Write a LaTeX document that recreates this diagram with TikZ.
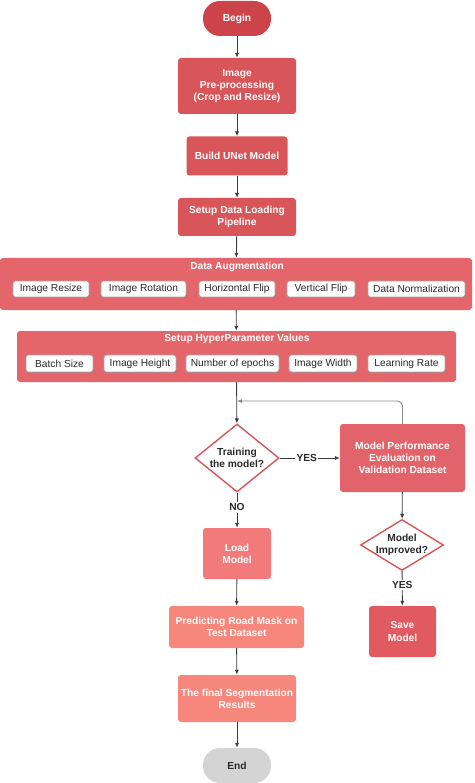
\documentclass[tikz,border=0pt]{standalone}
\usepackage{fontspec}
\setmainfont{Liberation Sans}
\usetikzlibrary{shapes.geometric,arrows.meta,shadows}
\definecolor{cbegin}{HTML}{CC444A}
\definecolor{cmain}{HTML}{D8555A}
\definecolor{cgroup}{HTML}{E5666A}
\definecolor{cperf}{HTML}{E3636A}
\definecolor{cload}{HTML}{F27A7A}
\definecolor{cpred}{HTML}{F7877C}
\definecolor{csave}{HTML}{E05A60}
\definecolor{cend}{HTML}{D4D4D4}
\definecolor{cline}{HTML}{3C3C3C}
\definecolor{cloop}{HTML}{8A8A8A}
\definecolor{ctext}{HTML}{2A2A2A}
\tikzset{
  base/.style={inner sep=0pt, align=center, font=\fontsize{10.2}{12.3}\selectfont\bfseries},
  redbox/.style={base, rectangle, rounded corners=3pt, fill=#1, text=white},
  term/.style={base, rectangle, rounded corners=17pt, fill=#1},
  chip/.style={inner sep=0pt, rectangle, rounded corners=2.5pt, fill=white, draw=gray!70, line width=0.6pt, text=ctext, font=\fontsize{10.2}{12}\selectfont, minimum height=16pt, drop shadow={shadow xshift=0.6pt, shadow yshift=-0.8pt, opacity=0.35, fill=black!60}},
  decision/.style={base, diamond, draw=cmain, line width=1.4pt, fill=white, text=ctext, inner sep=-1pt},
  arr/.style={draw=cline, line width=0.9pt, -{Latex[length=5pt,width=4.2pt]}},
  lbl/.style={font=\fontsize{10.2}{12}\selectfont\bfseries, text=ctext, fill=white, inner sep=1.5pt},
}
\begin{document}
\begin{tikzpicture}[x=1pt,y=-1pt]
\useasboundingbox (0,0) rectangle (474,783);
% main column
\node[term=cbegin, text=white, minimum width=68pt, minimum height=35pt] (begin) at (237,18.5) {Begin};
\node[redbox=cmain, minimum width=118pt, minimum height=56pt] (pre) at (237,86) {Image\\Pre-processing\\(Crop and Resize)};
\node[redbox=cmain, minimum width=101pt, minimum height=39pt] (build) at (237,156) {Build UNet Model};
\node[redbox=cmain, minimum width=118pt, minimum height=38pt] (loading) at (237,217) {Setup Data Loading\\Pipeline};
% data augmentation group
\node[redbox=cgroup, minimum width=472pt, minimum height=52pt] (aug) at (236,284) {};
\node[base, text=white] (augtitle) at (237,267) {Data Augmentation};
\node[chip, minimum width=76pt] (resize) at (51,289) {Image Resize};
\node[chip, minimum width=85pt] (rotation) at (143.5,289) {Image Rotation};
\node[chip, minimum width=76pt] (hflip) at (237,289) {Horizontal Flip};
\node[chip, minimum width=68pt] (vflip) at (321,289) {Vertical Flip};
\node[chip, minimum width=97pt] (norm) at (416.5,289) {Data Normalization};
% hyperparameters group
\node[redbox=cgroup, minimum width=439pt, minimum height=51pt] (hyper) at (236.5,356.5) {};
\node[base, text=white] (hypertitle) at (237,339) {Setup HyperParameter Values};
\node[chip, minimum width=67pt, minimum height=17pt] (batch) at (59.5,363.5) {Batch Size};
\node[chip, minimum width=72pt, minimum height=17pt] (height) at (140,363.5) {Image Height};
\node[chip, minimum width=93pt, minimum height=17pt] (epochs) at (232.5,363.5) {Number of epochs};
\node[chip, minimum width=68pt, minimum height=17pt] (width) at (323,363.5) {Image Width};
\node[chip, minimum width=77pt, minimum height=17pt] (lr) at (406.5,363.5) {Learning Rate};
% training loop
\node[decision, minimum width=84pt, minimum height=68pt, aspect=1.235] (train) at (237,458) {Training\\the model?};
\node[redbox=cperf, minimum width=125pt, minimum height=68pt] (perf) at (402.5,458) {Model Performance\\Evaluation on\\Validation Dataset};
\node[decision, minimum width=83pt, minimum height=51pt, aspect=1.63] (improved) at (402,545) {Model\\Improved?};
\node[redbox=csave, minimum width=67pt, minimum height=51pt] (save) at (402.5,631.5) {Save\\Model};
\node[redbox=cload, minimum width=68pt, minimum height=51pt] (loadm) at (237,553.5) {Load\\Model};
\node[redbox=cpred, minimum width=135pt, minimum height=42pt] (pred) at (236.5,627) {Predicting Road Mask on\\Test Dataset};
\node[redbox=cpred, minimum width=118pt, minimum height=47pt] (final) at (237,698.5) {The final Segmentation\\Results};
\node[term=cend, text=ctext, minimum width=68pt, minimum height=35pt] (end) at (237,765.5) {End};
\coordinate (loopend) at (237,401);
% connectors
\draw[arr] (begin) -- (pre);
\draw[arr] (pre) -- (build);
\draw[arr] (build) -- (loading);
\draw[arr] (loading) -- (aug);
\draw[arr] (aug) -- (hyper);
\draw[arr] (hyper) -- (train);
\draw[arr, draw=cloop, rounded corners=5pt] (perf.north) |- (loopend);
\draw[arr] (train) -- node[lbl, pos=0.45] (yes1) {YES} (perf);
\draw[arr] (train) -- node[lbl, pos=0.42] (no1) {NO} (loadm);
\draw[arr] (perf) -- (improved);
\draw[arr] (improved) -- node[lbl, pos=0.4] (yes2) {YES} (save);
\draw[arr] (loadm) -- (pred);
\draw[arr] (pred) -- (final);
\draw[arr] (final) -- (end);
\end{tikzpicture}
\end{document}
